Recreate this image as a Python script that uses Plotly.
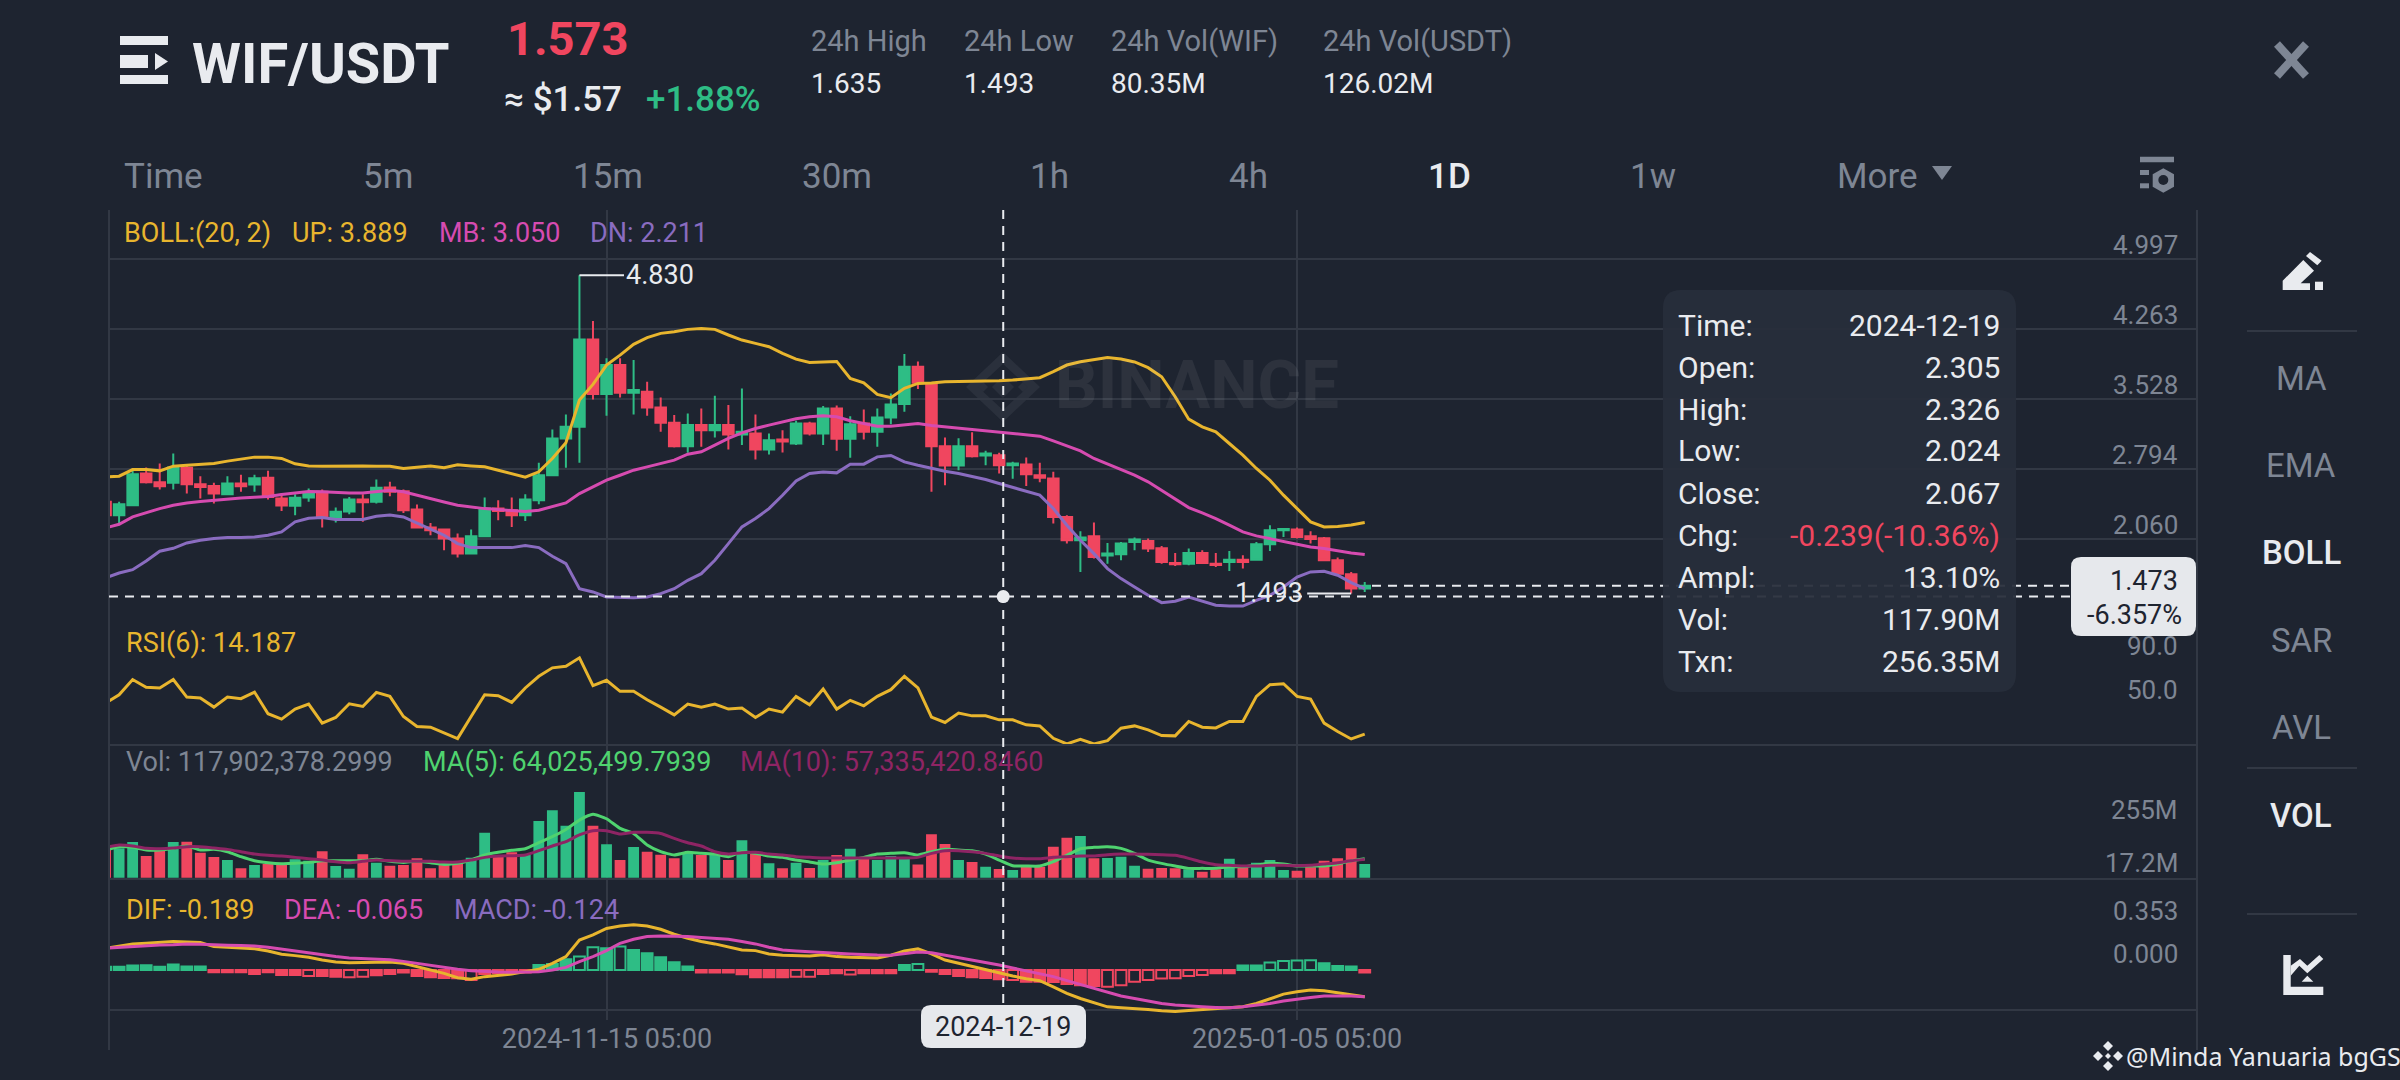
import pandas as pd
import plotly.graph_objects as go

# ---------- data (index 0 = first, partly hidden, daily candle) ----------
first_day = "2024-10-09 05:00"
opens = [2.453,2.313,2.418,2.75,2.659,2.652,2.81,2.638,2.62,2.533,2.645,2.635,2.705,2.488,2.411,2.498,2.558,2.295,2.351,2.477,2.453,2.603,2.565,2.372,2.183,2.162,2.068,1.91,2.092,2.382,2.365,2.313,2.47,2.733,3.118,3.24,4.157,3.583,3.888,3.597,3.608,3.443,3.282,3.037,3.258,3.205,3.258,3.16,3.17,3.002,3.107,3.065,3.275,3.17,3.433,3.114,3.275,3.188,3.338,3.478,3.87,3.695,3.037,2.834,3.037,2.939,2.943,2.838,2.845,2.733,2.698,2.295,2.05,2.092,1.889,1.903,2.033,2.043,1.966,1.812,1.805,1.917,1.805,1.823,1.847,1.847,2.008,2.155,2.162,2.092,2.071,1.84,1.693,1.543]
highs = [2.453,2.453,2.803,2.813,2.855,2.96,2.838,2.722,2.652,2.722,2.736,2.736,2.778,2.547,2.533,2.593,2.582,2.393,2.505,2.533,2.687,2.663,2.582,2.425,2.232,2.173,2.12,2.162,2.498,2.47,2.498,2.533,2.862,3.212,3.37,4.83,4.35,3.958,3.958,3.94,3.713,3.548,3.363,3.38,3.433,3.566,3.468,3.643,3.37,3.17,3.205,3.303,3.293,3.457,3.464,3.352,3.422,3.433,3.59,4.003,3.926,3.695,3.128,3.121,3.184,2.988,2.967,2.873,2.918,2.862,2.768,2.313,2.145,2.236,2.022,2.033,2.078,2.068,1.99,1.917,1.963,1.945,1.917,1.938,1.893,2.033,2.208,2.176,2.183,2.145,2.085,1.868,1.718,1.613]
lows = [2.313,2.208,2.407,2.645,2.582,2.582,2.54,2.488,2.435,2.523,2.558,2.558,2.477,2.358,2.313,2.453,2.183,2.236,2.323,2.243,2.435,2.512,2.337,2.173,2.103,1.945,1.868,1.91,2.092,2.26,2.19,2.253,2.428,2.722,2.81,2.862,3.527,3.355,3.548,3.37,3.355,3.188,3.023,2.967,3.03,3.128,3.002,3.048,2.897,2.949,2.97,3.048,3.149,3.048,2.988,2.915,3.107,3.03,3.268,3.398,3.636,2.558,2.628,2.785,2.918,2.838,2.75,2.694,2.62,2.659,2.225,2.015,1.718,1.858,1.805,1.84,1.945,1.928,1.805,1.781,1.788,1.805,1.77,1.728,1.753,1.84,1.938,2.085,2.068,2.015,1.83,1.683,1.493,1.508]
closes = [2.313,2.428,2.743,2.659,2.617,2.813,2.638,2.61,2.54,2.645,2.617,2.701,2.505,2.414,2.495,2.54,2.302,2.348,2.477,2.449,2.6,2.558,2.365,2.183,2.155,2.068,1.91,2.092,2.382,2.358,2.313,2.477,2.733,3.118,3.24,4.157,3.583,3.888,3.597,3.625,3.443,3.282,3.037,3.258,3.205,3.258,3.16,3.188,3.002,3.1,3.086,3.275,3.17,3.433,3.114,3.268,3.188,3.338,3.475,3.87,3.702,3.037,2.834,3.037,2.932,2.96,2.838,2.855,2.743,2.705,2.295,2.05,2.078,1.875,1.91,2.015,2.057,1.963,1.823,1.798,1.917,1.812,1.791,1.847,1.823,2.008,2.155,2.169,2.085,2.064,1.84,1.7,1.543,1.573]
boll_up = [2.715,2.722,2.792,2.792,2.778,2.827,2.838,2.848,2.855,2.88,2.897,2.922,2.922,2.908,2.852,2.83,2.827,2.83,2.83,2.83,2.827,2.827,2.803,2.82,2.83,2.81,2.841,2.83,2.82,2.785,2.75,2.711,2.768,2.908,3.072,3.52,3.685,3.888,3.992,4.105,4.175,4.22,4.238,4.262,4.272,4.262,4.203,4.15,4.115,4.08,4.01,3.95,3.915,3.922,3.926,3.748,3.702,3.58,3.545,3.643,3.695,3.699,3.713,3.716,3.716,3.716,3.723,3.73,3.74,3.755,3.818,3.888,3.923,3.944,3.968,3.951,3.92,3.86,3.765,3.555,3.32,3.24,3.188,3.065,2.943,2.803,2.68,2.523,2.383,2.243,2.19,2.194,2.211,2.236]
boll_mb = [2.18,2.218,2.295,2.34,2.382,2.418,2.442,2.456,2.47,2.484,2.494,2.502,2.508,2.53,2.547,2.561,2.558,2.55,2.547,2.547,2.561,2.575,2.558,2.522,2.48,2.452,2.418,2.4,2.382,2.372,2.358,2.351,2.365,2.4,2.442,2.54,2.61,2.68,2.732,2.785,2.82,2.855,2.89,2.953,2.978,3.048,3.118,3.177,3.222,3.258,3.293,3.324,3.345,3.355,3.345,3.303,3.275,3.247,3.247,3.261,3.275,3.254,3.24,3.23,3.215,3.201,3.188,3.177,3.163,3.142,3.093,3.037,2.988,2.908,2.848,2.792,2.733,2.663,2.575,2.488,2.393,2.337,2.278,2.208,2.138,2.096,2.068,2.033,2.005,1.98,1.963,1.938,1.917,1.9]
boll_dn = [1.655,1.707,1.742,1.833,1.935,1.966,2.022,2.05,2.068,2.078,2.078,2.085,2.103,2.138,2.243,2.281,2.288,2.267,2.267,2.267,2.302,2.316,2.295,2.232,2.166,2.103,2.015,1.973,1.973,1.973,1.973,1.994,1.973,1.882,1.805,1.542,1.508,1.455,1.448,1.448,1.455,1.49,1.542,1.63,1.7,1.84,2.015,2.19,2.278,2.382,2.522,2.673,2.75,2.767,2.757,2.848,2.848,2.925,2.939,2.872,2.837,2.802,2.774,2.75,2.722,2.687,2.645,2.603,2.558,2.523,2.383,2.208,2.05,1.91,1.753,1.648,1.56,1.473,1.396,1.41,1.455,1.41,1.368,1.36,1.36,1.42,1.473,1.56,1.665,1.718,1.725,1.683,1.606,1.543]
rsi6 = [50.6,58.2,71.9,64.9,64.3,71.9,56.1,55.2,47,56.1,54.6,60.6,41,36.1,45.2,49.7,32.5,37.6,50,47.6,60.3,56.7,38.5,29.4,28.8,23.4,18.5,38.5,58.2,57.3,51.3,64.3,74.9,82.5,84,91.6,66.4,71.3,61.3,61.3,53.7,47,40,49.7,47,49.7,45.2,46.1,37.6,45.2,42.5,56.7,49.1,63.4,45.2,53.1,48.2,56.7,62.8,74.9,64.3,37.9,33.1,41.6,39.1,39.1,35.5,35.5,31,30,18.8,13.7,17.9,13.7,16.7,27.9,30,26.4,21.3,21,34,28.8,28.2,34,34,56.7,67.3,68.2,56.7,54.3,32.5,24.9,18.2,22.5]
volume_m = [149,149,177.4,114.5,141.5,177.4,178.9,129.5,110,96.5,59.1,74.1,78.6,74.1,99.5,93.5,135.5,69.6,57.6,122,84.6,71.1,74.1,104,59.1,74.1,81.6,107,219,116,131,122,272,320,251,402,251,167,96.5,155,134,120.5,104,131,119,119,96.5,185,126.5,81.6,59.1,84.6,60.6,96.5,119,147,101,96.5,114.5,102.5,77,212,168.4,96.5,87.6,66.6,56,51.6,74.1,66.6,156.4,197,204,104,105.5,111.5,71,57.6,60.6,59.1,54.6,44,54.6,102.5,63.6,84.6,96.5,51.6,48.6,63.6,93.5,104,149,78.6]
vol_ma5 = [141.5,156.4,153.4,141.5,141.5,149,159.4,141.5,144.4,134,111.5,93.5,84.6,80,81.6,86,93.5,93.5,93.5,93.5,99.5,90.6,86,90.6,84.6,77,81.6,96.5,119,131,140,147.4,174.4,201.3,234,276,301.6,282,238.8,216,164,134,119,131,126.5,123.5,111.5,134,126.5,114.5,108.5,96.5,87.6,78.6,84.6,96.5,108.5,123.5,126.5,129.5,119,134,144.4,141.5,138.5,123.5,96.5,71,69.6,69.6,89,117.5,147.4,153.4,156.4,149,126.5,96.5,81.6,69.6,59.1,59.1,59.1,66.6,66.6,74,81.6,78.6,69.6,69.6,69.6,78.6,93.5,102.5]
vol_ma10 = [153.4,164,159.4,149,147.4,150.4,156.4,156.4,150.4,144.4,134,123.5,117.5,114.5,108.5,102.5,96.5,89,84.6,90.6,96.5,93.5,90.6,90.6,90.6,87.6,87.6,96.5,108.5,114.5,116,119,138.5,159.4,179,209,228,228,213,221,221,216,194,174.4,159.4,134,123.5,129.5,131,123.5,119,111.5,108.5,105.5,105.5,105.5,105.5,105.5,105.5,105.5,108.5,126.5,138.5,138.5,134,126.5,114.5,105.5,102.5,102.5,108.5,111.5,114.5,114.5,120.5,123.5,123.5,122,120.5,117.5,104,87.6,75.6,72.6,69.6,69.6,72.6,72.6,71,72.6,78.6,84.6,93.5,99.5]
macd_dif = [.177,.196,.213,.218,.224,.232,.229,.224,.191,.185,.18,.174,.155,.128,.117,.103,.081,.065,.059,.059,.065,.065,.054,.027,0,-.028,-.064,-.077,-.055,-.045,-.034,-.014,.005,.054,.109,.245,.287,.339,.36,.369,.36,.333,.292,.259,.232,.213,.191,.163,.158,.131,.12,.117,.114,.125,.109,.103,.098,.098,.12,.155,.172,.131,.081,.054,.027,0,-.023,-.05,-.072,-.088,-.138,-.192,-.234,-.269,-.302,-.31,-.316,-.324,-.335,-.34,-.332,-.324,-.316,-.31,-.302,-.275,-.234,-.198,-.179,-.165,-.171,-.187,-.206,-.22]
macd_dea = [.177,.185,.191,.196,.204,.207,.213,.21,.204,.202,.199,.196,.185,.169,.158,.141,.125,.109,.098,.092,.089,.084,.07,.054,.035,.021,.005,-.006,-.014,-.017,-.02,-.02,-.014,0,.021,.068,.109,.158,.218,.251,.273,.278,.278,.273,.265,.259,.251,.232,.213,.185,.163,.155,.147,.141,.136,.131,.125,.122,.12,.131,.147,.141,.122,.103,.081,.059,.04,.016,-.006,-.028,-.055,-.088,-.121,-.154,-.187,-.214,-.234,-.255,-.275,-.288,-.297,-.302,-.307,-.31,-.302,-.291,-.275,-.255,-.239,-.225,-.214,-.212,-.214,-.22]
macd_hist = [.025,.025,.036,.038,.025,.044,.027,.027,-.019,-.019,-.019,-.033,-.019,-.041,-.041,-.049,-.049,-.055,-.06,-.055,-.044,-.033,-.022,-.049,-.06,-.066,-.068,-.082,-.033,-.027,-.022,-.022,.041,.049,.088,.109,.186,.178,.192,.164,.137,.104,.063,.027,-.022,-.022,-.022,-.036,-.06,-.06,-.06,-.055,-.055,-.033,-.027,-.038,-.027,-.027,-.027,.041,.049,-.016,-.033,-.049,-.06,-.066,-.077,-.082,-.096,-.096,-.099,-.115,-.126,-.131,-.137,-.126,-.096,-.082,-.071,-.068,-.049,-.041,-.027,-.027,.036,.036,.06,.074,.077,.079,.055,.033,.027,-.022]
hollow_bars = [15,18,19,27,35,36,38,51,52,55,60,67,74,75,76,77,78,79,80,81,86,87,88,89]
price_ticks = [4.997,4.263,3.528,2.794,2.060,1.326]
tooltip_keys = ["Time:","Open:","High:","Low:","Close:","Chg:","Ampl:","Vol:","Txn:"]
tooltip_vals = ["2024-12-19","2.305","2.326","2.024","2.067","-0.239(-10.36%)","13.10%","117.90M","256.35M"]
periods = ["Time","5m","15m","30m","1h","4h","1D","1w","More"]
side_menu = ["MA","EMA","BOLL","SAR","AVL","VOL"]

# ---------- styling ----------
BG = "#1e2430"; GRID = "#323844"; GRAY = "#7e8694"; WHITE = "#e9ebef"
GREEN = "#2ebd85"; RED = "#f0465f"
YEL = "#e8b52e"; MAG = "#d64bb0"; PUR = "#8a6cc0"; LGREEN = "#4fd36f"; MAROON = "#8e2464"
FONT = "Roboto"
W, H = 2400, 1080
px = lambda x: x / W
py = lambda y: 1 - y / H

dates = pd.date_range(first_day, periods=len(opens), freq="D")
day = pd.Timedelta(days=1)
at = lambda i: dates[0] + (i + 1) * day      # i = candle number on screen, first full candle is 0

fig = go.Figure()
vol_colors = [GREEN if c >= o else RED for o, c in zip(opens, closes)]
hist_line = [GREEN if v >= 0 else RED for v in macd_hist]
hist_fill = [BG if i in hollow_bars else col for i, col in enumerate(hist_line)]

def line(y, color, xa, ya, width=3, shape="linear"):
    fig.add_trace(go.Scatter(x=dates, y=y, mode="lines", xaxis=xa, yaxis=ya, hoverinfo="skip",
                             line=dict(color=color, width=width, shape=shape, smoothing=0.5)))

fig.add_trace(go.Candlestick(x=dates, open=opens, high=highs, low=lows, close=closes, xaxis="x", yaxis="y",
                             increasing=dict(line=dict(color=GREEN, width=2), fillcolor=GREEN),
                             decreasing=dict(line=dict(color=RED, width=2), fillcolor=RED),
                             whiskerwidth=0, hoverinfo="skip"))
line(boll_up, YEL, "x", "y"); line(boll_mb, MAG, "x", "y"); line(boll_dn, PUR, "x", "y")
line(rsi6, YEL, "x2", "y2")
fig.add_trace(go.Bar(x=dates, y=volume_m, xaxis="x3", yaxis="y3", marker=dict(color=vol_colors, line_width=0), hoverinfo="skip"))
line(vol_ma5, LGREEN, "x3", "y3", shape="spline"); line(vol_ma10, MAROON, "x3", "y3", shape="spline")
fig.add_trace(go.Bar(x=dates, y=macd_hist, xaxis="x4", yaxis="y4", hoverinfo="skip",
                     marker=dict(color=hist_fill, line=dict(color=hist_line, width=2))))
line(macd_dif, YEL, "x4", "y4"); line(macd_dea, MAG, "x4", "y4")

cross_x = at(65.3); cross_y = 1.459
fig.add_trace(go.Scatter(x=[cross_x], y=[cross_y], mode="markers", xaxis="x", yaxis="y", hoverinfo="skip",
                         marker=dict(color=WHITE, size=13)))

# ---------- axes ----------
x_range = [at(-0.746), at(153.47)]
x_ticks = [at(36.03), at(87.0)]
x_text = ["2024-11-15 05:00", "2025-01-05 05:00"]
xcommon = dict(domain=[px(109), px(2197)], range=x_range, type="date", tickvals=x_ticks, ticktext=x_text,
               showgrid=True, gridcolor=GRID, gridwidth=1.5, zeroline=False, ticks="", rangeslider=dict(visible=False))
ycommon = dict(zeroline=False, showticklabels=False, ticks="", side="right")
layout = dict(
    xaxis=dict(xcommon, anchor="y", showticklabels=False, showline=False),
    xaxis2=dict(xcommon, anchor="y2", matches="x", showticklabels=False, showline=True, linecolor=GRID, linewidth=2),
    xaxis3=dict(xcommon, anchor="y3", matches="x", showticklabels=False, showline=True, linecolor=GRID, linewidth=2),
    xaxis4=dict(xcommon, anchor="y4", matches="x", showticklabels=True, tickfont=dict(family=FONT, size=27, color=GRAY)),
    yaxis=dict(ycommon, domain=[py(609.3), py(210)], range=[1.326, 5.514], tickvals=price_ticks,
               showgrid=True, gridcolor=GRID, gridwidth=1.5),
    yaxis2=dict(ycommon, domain=[py(744), py(609.3)], range=[13.64, 135.45], showgrid=False, tickvals=[90, 50]),
    yaxis3=dict(ycommon, domain=[py(877.7), py(744)], range=[17.2, 617.5], showgrid=False, tickvals=[255, 17.2]),
    yaxis4=dict(ycommon, domain=[py(1020), py(877.7)], range=[-0.41, 0.755], showgrid=True, gridcolor=GRID, gridwidth=1.5,
                tickvals=[-0.328]),
)

# ---------- texts ----------
ann = []
def T(x, y, text, size, color, anchor="left", weight=400, family=FONT):
    ann.append(dict(x=px(x), y=py(y), xref="paper", yref="paper", text=text, showarrow=False, xanchor=anchor, yanchor="middle",
                    font=dict(family=family, size=size, color=color, weight=weight)))
def axis_label(y_val, yref, text, shift=14):
    ann.append(dict(x=px(2180), y=y_val, xref="paper", yref=yref, text=text, showarrow=False, xanchor="right", yanchor="middle",
                    yshift=shift, font=dict(family=FONT, size=26, color=GRAY)))

T(190, 64, "WIF/USDT", 56, WHITE, weight=700)
T(505, 39, "1.573", 47, RED, weight=700)
T(502, 99, "≈ $1.57", 35, WHITE, weight=500)
T(644, 99, "+1.88%", 35, GREEN, weight=500)
for x, a, b in [(809, "24h High", "1.635"), (962, "24h Low", "1.493"), (1109, "24h Vol(WIF)", "80.35M"), (1321, "24h Vol(USDT)", "126.02M")]:
    T(x, 41, a, 29, GRAY); T(x, 84, b, 28, WHITE)
for x, s in zip([122, 361, 571, 800, 1028, 1227, 1426, 1628, 1835], periods):
    T(x, 176, s, 35, WHITE if s == "1D" else GRAY, weight=500 if s == "1D" else 400)
for y, s in zip([378, 465, 552, 640, 727, 815], side_menu):
    on = s in ("BOLL", "VOL")
    T(2301, y, s, 33, WHITE if on else GRAY, "center", 500 if on else 400)

T(122, 233, "BOLL:(20, 2)", 27, YEL); T(290, 233, "UP: 3.889", 27, YEL); T(437, 233, "MB: 3.050", 27, MAG); T(588, 233, "DN: 2.211", 27, PUR)
T(124, 643, "RSI(6): 14.187", 27, YEL)
T(124, 762, "Vol: 117,902,378.2999", 27, GRAY); T(421, 762, "MA(5): 64,025,499.7939", 27, LGREEN); T(738, 762, "MA(10): 57,335,420.8460", 27, MAROON)
T(124, 910, "DIF: -0.189", 27, YEL); T(282, 910, "DEA: -0.065", 27, MAG); T(452, 910, "MACD: -0.124", 27, PUR)
for v in price_ticks[:-1]:
    axis_label(v, "y", f"{v:.3f}")
axis_label(90, "y2", "90.0"); axis_label(50, "y2", "50.0")
axis_label(255, "y3", "255M", 15); axis_label(17.2, "y3", "17.2M", 15)
axis_label(0.353, "y4", "0.353", 16); axis_label(0.0, "y4", "0.000", 16)

ann.append(dict(x=px(624), y=4.83, xref="paper", yref="y", text="4.830", showarrow=False, xanchor="left", yanchor="middle",
                font=dict(family=FONT, size=27, color=WHITE)))
ann.append(dict(x=px(1305), y=1.493, xref="paper", yref="y", text="1.493", showarrow=False, xanchor="right", yanchor="middle",
                font=dict(family=FONT, size=27, color=WHITE)))
T(1197, 385, "BINANCE", 67, "rgba(255,255,255,0.065)", "center", 700)

for y, a, b in zip([325, 367, 409, 451, 493, 535, 577, 619, 661], tooltip_keys, tooltip_vals):
    T(1676, y, a, 30, WHITE)
    T(2002, y, b, 30, RED if a == "Chg:" else WHITE, "right")
T(2180, 581, "1.473", 27, "#1e2430", "right"); T(2184, 615, "-6.357%", 27, "#1e2430", "right")
T(1003, 1027, "2024-12-19", 27, "#1e2430", "center")
T(2124, 1056, "@Minda Yanuaria bgGS", 25, WHITE, family="Noto Sans")

# ---------- shapes ----------
shp = []
def P(points, fill, layer="above"):
    d = "M" + " L".join(f"{px(a):.5f},{py(b):.5f}" for a, b in points) + " Z"
    shp.append(dict(type="path", path=d, xref="paper", yref="paper", fillcolor=fill, line_width=0, layer=layer))
def R(x0, y0, x1, y1, fill):
    shp.append(dict(type="rect", x0=px(x0), x1=px(x1), y0=py(y0), y1=py(y1), xref="paper", yref="paper", fillcolor=fill, line_width=0))
def L(x0, y0, x1, y1, color=GRID, width=2, layer="above"):
    shp.append(dict(type="line", x0=px(x0), x1=px(x1), y0=py(y0), y1=py(y1), xref="paper", yref="paper",
                    line=dict(color=color, width=width), layer=layer))
def RR(x0, y0, x1, y1, r, fill):
    X, Y = px, py
    rx, ry = r / W, r / H
    d = (f"M{X(x0)+rx},{Y(y0)} L{X(x1)-rx},{Y(y0)} Q{X(x1)},{Y(y0)} {X(x1)},{Y(y0)-ry} L{X(x1)},{Y(y1)+ry} "
         f"Q{X(x1)},{Y(y1)} {X(x1)-rx},{Y(y1)} L{X(x0)+rx},{Y(y1)} Q{X(x0)},{Y(y1)} {X(x0)},{Y(y1)+ry} "
         f"L{X(x0)},{Y(y0)-ry} Q{X(x0)},{Y(y0)} {X(x0)+rx},{Y(y0)} Z")
    shp.append(dict(type="path", path=d, xref="paper", yref="paper", fillcolor=fill, line_width=0))
def diamond(cx, cy, r, fill, layer="above"):
    P([(cx, cy - r), (cx + r, cy), (cx, cy + r), (cx - r, cy)], fill, layer)

# frame and side separators
L(109, 210, 109, 1050); L(2197, 210, 2197, 1050)
for y in (331, 768, 914):
    L(2247, y, 2357, y)

# crosshair and price lines
dash = dict(color=WHITE, width=2, dash="9px,7px")
shp.append(dict(type="line", xref="x", yref="paper", x0=cross_x, x1=cross_x, y0=py(210), y1=py(1006), line=dash))
shp.append(dict(type="line", xref="paper", yref="y", x0=px(109), x1=px(2072), y0=cross_y, y1=cross_y, line=dash))
shp.append(dict(type="line", xref="paper", yref="y", x0=px(1372), x1=px(2072), y0=closes[-1], y1=closes[-1], line=dash))
shp.append(dict(type="line", xref="x", yref="y", x0=dates[35], x1=dates[35] + 3.29 * day, y0=4.83, y1=4.83, line=dict(color=WHITE, width=2)))
shp.append(dict(type="line", xref="x", yref="y", x0=dates[92], x1=dates[92] - 3.25 * day, y0=1.493, y1=1.493, line=dict(color=WHITE, width=2)))

# tooltip, price tag and date tag
RR(1663, 290, 2016, 692, 18, "rgba(39,46,58,0.94)")
RR(2071, 557, 2196, 636, 10, "#e6e8ec")
RR(921, 1005, 1086, 1048, 10, "#e6e8ec")

# watermark logo
wm = "#2a303c"
diamond(1003, 387, 11, wm, "below")
for dx, dy in [(-24, 0), (24, 0)]:
    diamond(1003 + dx, 387 + dy, 9, wm, "below")
P([(1003, 352), (1040, 387), (1028, 387), (1003, 364), (978, 387), (966, 387)], wm, "below")
P([(1003, 422), (1040, 387), (1028, 387), (1003, 410), (978, 387), (966, 387)], wm, "below")

# header icon
R(120, 36, 168, 45, WHITE); R(120, 55, 148, 68, WHITE); R(120, 75, 168, 84, WHITE)
P([(155, 53), (168, 61.5), (155, 70)], WHITE)
# close cross
L(2277, 44, 2306, 76, GRAY, 8); L(2306, 44, 2277, 76, GRAY, 8)
# "more" triangle
P([(1932, 166), (1952, 166), (1942, 180)], GRAY)
# settings icon
R(2140, 156.7, 2174, 162.3, GRAY); R(2140, 170, 2149, 175, GRAY); R(2140, 183.3, 2149, 188.3, GRAY)
P([(2163.3, 168.3), (2174, 174.3), (2174, 186.7), (2163.3, 192.7), (2152.7, 186.7), (2152.7, 174.3)], GRAY)
shp.append(dict(type="circle", xref="paper", yref="paper", x0=px(2158.3), x1=px(2168.3), y0=py(185), y1=py(175), fillcolor=BG, line_width=0))
# pen icon
P([(2282.7, 280.7), (2303.3, 260), (2314, 270.7), (2300.7, 283.3), (2310, 283.3), (2310, 290), (2282.7, 290)], WHITE)
P([(2306, 256), (2310, 252), (2321.7, 260.7), (2317.3, 265.3)], WHITE)
R(2315, 281.7, 2323, 290, WHITE)
# chart icon
P([(2283.3, 955), (2290.7, 955), (2290.7, 986.7), (2323.3, 986.7), (2323.3, 995), (2283.3, 995)], WHITE)
P([(2290.7, 965.7), (2300, 959), (2307.3, 965.7), (2319.3, 955), (2323.3, 959), (2307.3, 973.3), (2299.3, 965.7), (2290.7, 975.7)], WHITE)
P([(2307.3, 975.7), (2313.3, 981.7), (2301.7, 981.7)], WHITE)
# footer logo
for dx, dy in [(0, -10), (10, 0), (-10, 0), (0, 10)]:
    diamond(2108 + dx, 1056 + dy, 5, WHITE)
diamond(2108, 1056, 3, WHITE)

fig.update_layout(**layout, width=W, height=H, margin=dict(l=0, r=0, t=0, b=0), autosize=False,
                  paper_bgcolor=BG, plot_bgcolor=BG, showlegend=False, bargap=0.2, boxgap=0.22, boxgroupgap=0,
                  annotations=ann, shapes=shp, hovermode=False, font=dict(family=FONT))
fig.write_html("out.html", config=dict(displayModeBar=False), post_script="document.body.style.margin='0';document.body.style.background='#1e2430';")
